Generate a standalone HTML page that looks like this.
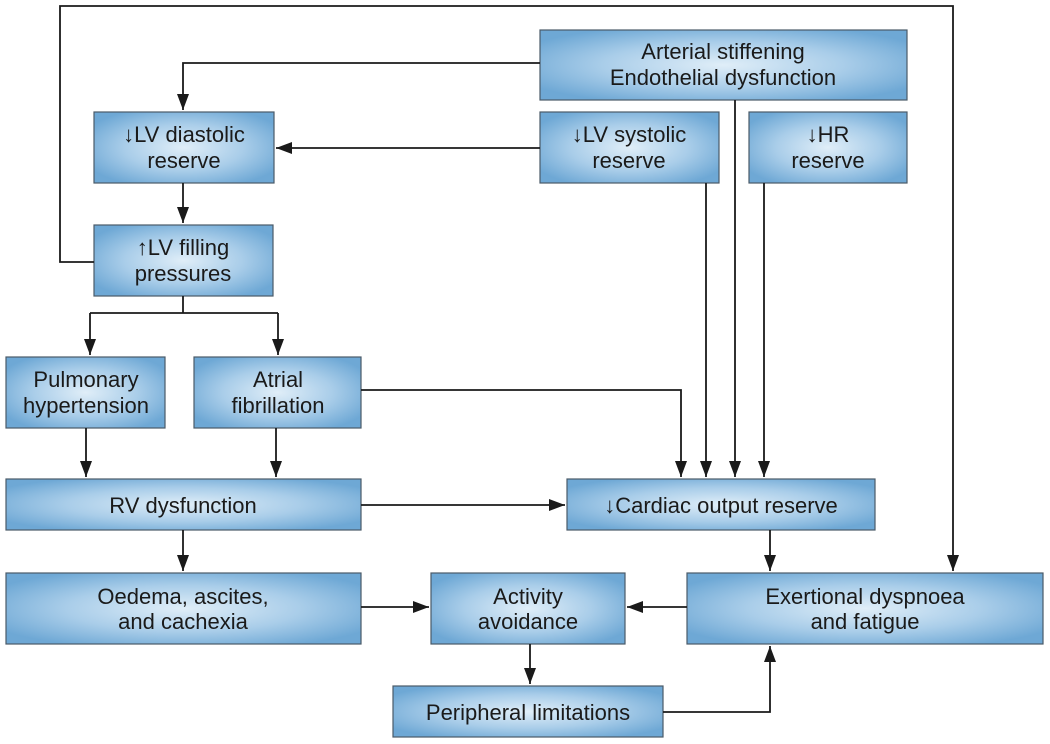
<!DOCTYPE html>
<html><head><meta charset="utf-8"><style>
html,body{margin:0;padding:0;background:#fff;}
svg{display:block;}
text{font-family:"Liberation Sans",sans-serif;font-size:22px;fill:#1a1a1a;text-anchor:middle;}
</style></head><body>
<svg width="1050" height="744" viewBox="0 0 1050 744" xmlns="http://www.w3.org/2000/svg">
<defs>
<radialGradient id="g" cx="50%" cy="50%" r="60%">
<stop offset="0" stop-color="#e0eef8"/>
<stop offset="0.55" stop-color="#a9cde9"/>
<stop offset="1" stop-color="#6ea8d5"/>
</radialGradient>
<marker id="a" markerWidth="16" markerHeight="14" refX="16" refY="7" orient="auto" markerUnits="userSpaceOnUse">
<path d="M0,1 L16,7 L0,13 z" fill="#1a1a1a"/>
</marker>
</defs>
<g fill="url(#g)" stroke="#4a5a68" stroke-width="1.2">
<rect x="540" y="30" width="367" height="70"/>
<rect x="94" y="112" width="180" height="71"/>
<rect x="540" y="112" width="179" height="71"/>
<rect x="749" y="112" width="158" height="71"/>
<rect x="94" y="225" width="179" height="71"/>
<rect x="6" y="357" width="159" height="71"/>
<rect x="194" y="357" width="167" height="71"/>
<rect x="6" y="479" width="355" height="51"/>
<rect x="567" y="479" width="308" height="51"/>
<rect x="6" y="573" width="355" height="71"/>
<rect x="431" y="573" width="194" height="71"/>
<rect x="687" y="573" width="356" height="71"/>
<rect x="393" y="686" width="270" height="51"/>
</g>
<g fill="none" stroke="#1a1a1a" stroke-width="1.8">
<path d="M94,262 H60 V6 H953 V571" marker-end="url(#a)"/>
<path d="M540,63 H183 V110" marker-end="url(#a)"/>
<path d="M540,148 H276" marker-end="url(#a)"/>
<path d="M183,183 V223" marker-end="url(#a)"/>
<path d="M183,296 V313"/>
<path d="M90,313 H278"/>
<path d="M90,313 V355" marker-end="url(#a)"/>
<path d="M278,313 V355" marker-end="url(#a)"/>
<path d="M86,428 V477" marker-end="url(#a)"/>
<path d="M276,428 V477" marker-end="url(#a)"/>
<path d="M361,390 H681 V477" marker-end="url(#a)"/>
<path d="M706,183 V477" marker-end="url(#a)"/>
<path d="M735,100 V477" marker-end="url(#a)"/>
<path d="M764,183 V477" marker-end="url(#a)"/>
<path d="M361,505 H565" marker-end="url(#a)"/>
<path d="M770,530 V571" marker-end="url(#a)"/>
<path d="M183,530 V571" marker-end="url(#a)"/>
<path d="M361,607 H429" marker-end="url(#a)"/>
<path d="M687,607 H627" marker-end="url(#a)"/>
<path d="M530,644 V684" marker-end="url(#a)"/>
<path d="M663,712 H770 V646" marker-end="url(#a)"/>
</g>
<text x="723" y="59">Arterial stiffening</text>
<text x="723" y="85">Endothelial dysfunction</text>
<text x="184" y="142">↓LV diastolic</text>
<text x="184" y="168">reserve</text>
<text x="629" y="142">↓LV systolic</text>
<text x="629" y="168">reserve</text>
<text x="828" y="142">↓HR</text>
<text x="828" y="168">reserve</text>
<text x="183" y="255">↑LV filling</text>
<text x="183" y="281">pressures</text>
<text x="86" y="387">Pulmonary</text>
<text x="86" y="413">hypertension</text>
<text x="278" y="387">Atrial</text>
<text x="278" y="413">fibrillation</text>
<text x="183" y="513">RV dysfunction</text>
<text x="721" y="513">↓Cardiac output reserve</text>
<text x="183" y="604">Oedema, ascites,</text>
<text x="183" y="629">and cachexia</text>
<text x="528" y="604">Activity</text>
<text x="528" y="629">avoidance</text>
<text x="865" y="604">Exertional dyspnoea</text>
<text x="865" y="629">and fatigue</text>
<text x="528" y="720">Peripheral limitations</text>
</svg>
</body></html>
